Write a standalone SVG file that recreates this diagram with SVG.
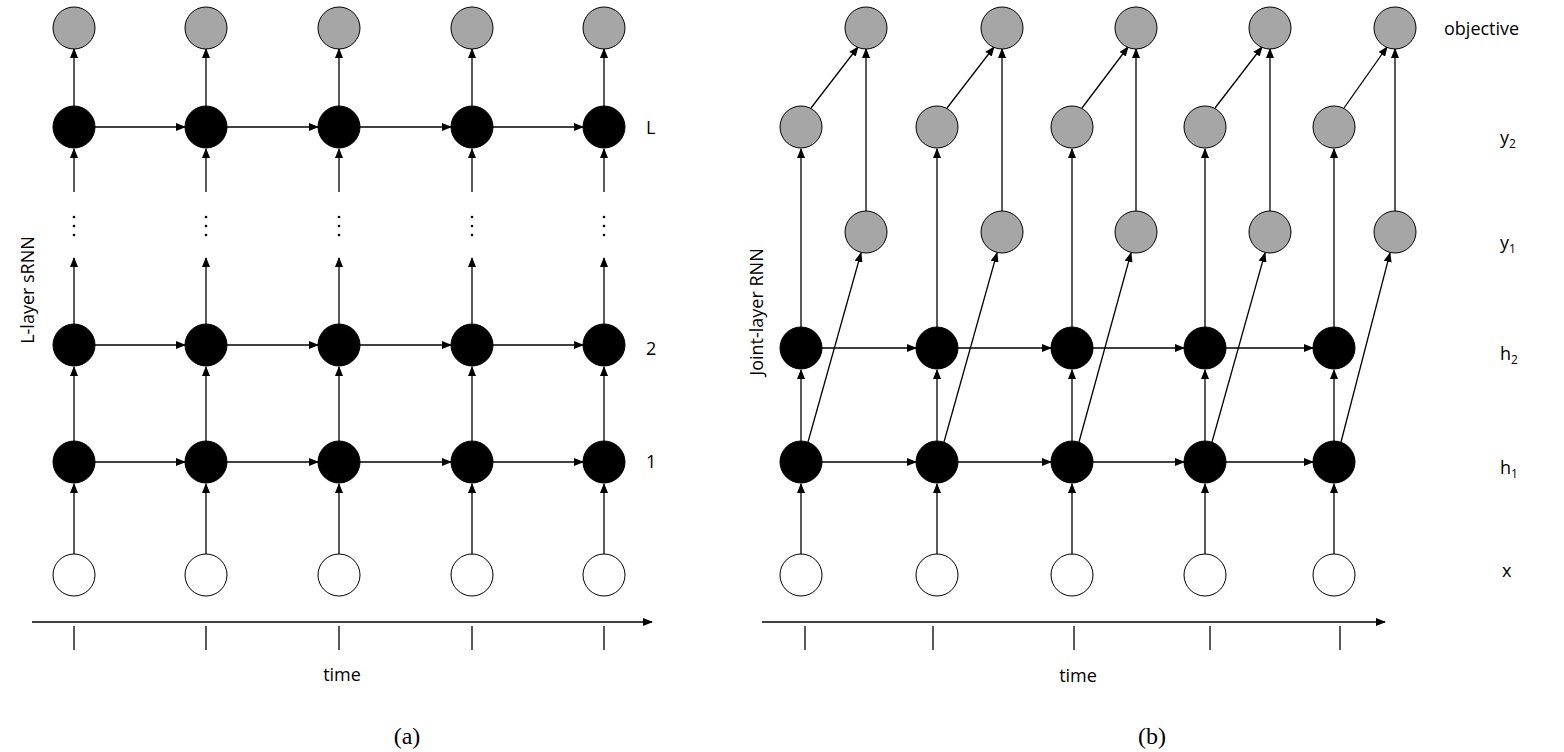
<svg xmlns="http://www.w3.org/2000/svg" width="1564" height="752" viewBox="0 0 1564 752">
<style>
.h{fill:#000;stroke:#000;stroke-width:1}
.g{fill:#a6a6a6;stroke:#000;stroke-width:1}
.w{fill:#fff;stroke:#000;stroke-width:1}
.e line,.e path{stroke:#000;stroke-width:1.3;fill:none}
.a{marker-end:url(#ar)}
text{font-family:"Open Sans","DejaVu Sans",sans-serif;font-size:18px;fill:#000}
.cap{font-family:"Liberation Serif",serif;font-size:24px}
</style>
<defs><marker id="ar" markerWidth="10" markerHeight="8" refX="9" refY="4" orient="auto" markerUnits="userSpaceOnUse"><path d="M0,0 L10,4 L0,8 z" fill="#000"/></marker></defs>
<g id="connectors" class="e">
<!-- panel a -->
<line x1="32" y1="622" x2="652" y2="622" class="a"/>
<path d="M74,626V650M206,626V650M339,626V650M472,626V650M604,626V650"/>
<g id="a-vert">
<line x1="74" y1="554" x2="74" y2="484" class="a"/><line x1="206" y1="554" x2="206" y2="484" class="a"/><line x1="339" y1="554" x2="339" y2="484" class="a"/><line x1="472" y1="554" x2="472" y2="484" class="a"/><line x1="604" y1="554" x2="604" y2="484" class="a"/>
<line x1="74" y1="441" x2="74" y2="367" class="a"/><line x1="206" y1="441" x2="206" y2="367" class="a"/><line x1="339" y1="441" x2="339" y2="367" class="a"/><line x1="472" y1="441" x2="472" y2="367" class="a"/><line x1="604" y1="441" x2="604" y2="367" class="a"/>
<line x1="74" y1="324" x2="74" y2="258" class="a"/><line x1="206" y1="324" x2="206" y2="258" class="a"/><line x1="339" y1="324" x2="339" y2="258" class="a"/><line x1="472" y1="324" x2="472" y2="258" class="a"/><line x1="604" y1="324" x2="604" y2="258" class="a"/>
<line x1="74" y1="192" x2="74" y2="149" class="a"/><line x1="206" y1="192" x2="206" y2="149" class="a"/><line x1="339" y1="192" x2="339" y2="149" class="a"/><line x1="472" y1="192" x2="472" y2="149" class="a"/><line x1="604" y1="192" x2="604" y2="149" class="a"/>
<line x1="74" y1="106" x2="74" y2="49" class="a"/><line x1="206" y1="106" x2="206" y2="49" class="a"/><line x1="339" y1="106" x2="339" y2="49" class="a"/><line x1="472" y1="106" x2="472" y2="49" class="a"/><line x1="604" y1="106" x2="604" y2="49" class="a"/>
</g>
<g id="a-horiz">
<line x1="95" y1="127" x2="185" y2="127" class="a"/><line x1="227" y1="127" x2="318" y2="127" class="a"/><line x1="360" y1="127" x2="451" y2="127" class="a"/><line x1="493" y1="127" x2="583" y2="127" class="a"/>
<line x1="95" y1="345" x2="185" y2="345" class="a"/><line x1="227" y1="345" x2="318" y2="345" class="a"/><line x1="360" y1="345" x2="451" y2="345" class="a"/><line x1="493" y1="345" x2="583" y2="345" class="a"/>
<line x1="95" y1="462" x2="185" y2="462" class="a"/><line x1="227" y1="462" x2="318" y2="462" class="a"/><line x1="360" y1="462" x2="451" y2="462" class="a"/><line x1="493" y1="462" x2="583" y2="462" class="a"/>
</g>
<!-- panel b -->
<line x1="762" y1="622" x2="1385" y2="622" class="a"/>
<path d="M805,626V650M933,626V650M1074,626V650M1210,626V650M1340,626V650"/>
<line x1="801" y1="554" x2="801" y2="484" class="a"/><line x1="937" y1="554" x2="937" y2="484" class="a"/><line x1="1072" y1="554" x2="1072" y2="484" class="a"/><line x1="1205" y1="554" x2="1205" y2="484" class="a"/><line x1="1334" y1="554" x2="1334" y2="484" class="a"/>
<line x1="801" y1="441" x2="801" y2="370" class="a"/><line x1="937" y1="441" x2="937" y2="370" class="a"/><line x1="1072" y1="441" x2="1072" y2="370" class="a"/><line x1="1205" y1="441" x2="1205" y2="370" class="a"/><line x1="1334" y1="441" x2="1334" y2="370" class="a"/>
<line x1="801" y1="327" x2="801" y2="149" class="a"/><line x1="937" y1="327" x2="937" y2="149" class="a"/><line x1="1072" y1="327" x2="1072" y2="149" class="a"/><line x1="1205" y1="327" x2="1205" y2="149" class="a"/><line x1="1334" y1="327" x2="1334" y2="149" class="a"/>
<line x1="866" y1="211" x2="866" y2="49" class="a"/><line x1="1002" y1="211" x2="1002" y2="49" class="a"/><line x1="1136" y1="211" x2="1136" y2="49" class="a"/><line x1="1270" y1="211" x2="1270" y2="49" class="a"/><line x1="1395" y1="211" x2="1395" y2="49" class="a"/>
<line x1="811" y1="108" x2="858" y2="47" class="a"/><line x1="947" y1="108" x2="994" y2="47" class="a"/><line x1="1082" y1="108" x2="1128" y2="47" class="a"/><line x1="1215" y1="108" x2="1262" y2="47" class="a"/><line x1="1344" y1="108" x2="1387" y2="47" class="a"/>
<line x1="808" y1="442" x2="861" y2="253" class="a"/><line x1="944" y1="442" x2="997" y2="253" class="a"/><line x1="1079" y1="442" x2="1131" y2="253" class="a"/><line x1="1212" y1="442" x2="1265" y2="253" class="a"/><line x1="1341" y1="442" x2="1390" y2="253" class="a"/>
<line x1="822" y1="348" x2="916" y2="348" class="a"/><line x1="958" y1="348" x2="1051" y2="348" class="a"/><line x1="1093" y1="348" x2="1184" y2="348" class="a"/><line x1="1226" y1="348" x2="1313" y2="348" class="a"/>
<line x1="822" y1="462" x2="916" y2="462" class="a"/><line x1="958" y1="462" x2="1051" y2="462" class="a"/><line x1="1093" y1="462" x2="1184" y2="462" class="a"/><line x1="1226" y1="462" x2="1313" y2="462" class="a"/>
</g>
<g id="a-nodes">
<g id="a-obj"><circle class="g" cx="74" cy="28" r="21"/><circle class="g" cx="206" cy="28" r="21"/><circle class="g" cx="339" cy="28" r="21"/><circle class="g" cx="472" cy="28" r="21"/><circle class="g" cx="604" cy="28" r="21"/></g>
<g id="a-L"><circle class="h" cx="74" cy="127" r="21"/><circle class="h" cx="206" cy="127" r="21"/><circle class="h" cx="339" cy="127" r="21"/><circle class="h" cx="472" cy="127" r="21"/><circle class="h" cx="604" cy="127" r="21"/></g>
<g id="a-2"><circle class="h" cx="74" cy="345" r="21"/><circle class="h" cx="206" cy="345" r="21"/><circle class="h" cx="339" cy="345" r="21"/><circle class="h" cx="472" cy="345" r="21"/><circle class="h" cx="604" cy="345" r="21"/></g>
<g id="a-1"><circle class="h" cx="74" cy="462" r="21"/><circle class="h" cx="206" cy="462" r="21"/><circle class="h" cx="339" cy="462" r="21"/><circle class="h" cx="472" cy="462" r="21"/><circle class="h" cx="604" cy="462" r="21"/></g>
<g id="a-x"><circle class="w" cx="74" cy="575" r="21"/><circle class="w" cx="206" cy="575" r="21"/><circle class="w" cx="339" cy="575" r="21"/><circle class="w" cx="472" cy="575" r="21"/><circle class="w" cx="604" cy="575" r="21"/></g>
<g id="a-dots" fill="#000"><circle cx="74" cy="217" r="1.3"/><circle cx="74" cy="226" r="1.3"/><circle cx="74" cy="235" r="1.3"/><circle cx="206" cy="217" r="1.3"/><circle cx="206" cy="226" r="1.3"/><circle cx="206" cy="235" r="1.3"/><circle cx="339" cy="217" r="1.3"/><circle cx="339" cy="226" r="1.3"/><circle cx="339" cy="235" r="1.3"/><circle cx="472" cy="217" r="1.3"/><circle cx="472" cy="226" r="1.3"/><circle cx="472" cy="235" r="1.3"/><circle cx="604" cy="217" r="1.3"/><circle cx="604" cy="226" r="1.3"/><circle cx="604" cy="235" r="1.3"/></g>
</g>
<g id="b-nodes">
<g id="b-obj"><circle class="g" cx="866" cy="28" r="21"/><circle class="g" cx="1002" cy="28" r="21"/><circle class="g" cx="1136" cy="28" r="21"/><circle class="g" cx="1270" cy="28" r="21"/><circle class="g" cx="1395" cy="28" r="21"/></g>
<g id="b-y2"><circle class="g" cx="801" cy="127" r="21"/><circle class="g" cx="937" cy="127" r="21"/><circle class="g" cx="1072" cy="127" r="21"/><circle class="g" cx="1205" cy="127" r="21"/><circle class="g" cx="1334" cy="127" r="21"/></g>
<g id="b-y1"><circle class="g" cx="866" cy="232" r="21"/><circle class="g" cx="1002" cy="232" r="21"/><circle class="g" cx="1136" cy="232" r="21"/><circle class="g" cx="1270" cy="232" r="21"/><circle class="g" cx="1395" cy="232" r="21"/></g>
<g id="b-h2"><circle class="h" cx="801" cy="348" r="21"/><circle class="h" cx="937" cy="348" r="21"/><circle class="h" cx="1072" cy="348" r="21"/><circle class="h" cx="1205" cy="348" r="21"/><circle class="h" cx="1334" cy="348" r="21"/></g>
<g id="b-h1"><circle class="h" cx="801" cy="462" r="21"/><circle class="h" cx="937" cy="462" r="21"/><circle class="h" cx="1072" cy="462" r="21"/><circle class="h" cx="1205" cy="462" r="21"/><circle class="h" cx="1334" cy="462" r="21"/></g>
<g id="b-x"><circle class="w" cx="801" cy="575" r="21"/><circle class="w" cx="937" cy="575" r="21"/><circle class="w" cx="1072" cy="575" r="21"/><circle class="w" cx="1205" cy="575" r="21"/><circle class="w" cx="1334" cy="575" r="21"/></g>
</g>
<g id="labels">
<text x="646" y="134">L</text><text x="646" y="355">2</text><text x="646" y="468">1</text>
<text x="34" y="290" transform="rotate(-90 34 290)" text-anchor="middle">L-layer sRNN</text>
<text x="342" y="681" text-anchor="middle">time</text>
<text x="407" y="744" text-anchor="middle" class="cap">(a)</text>
<text x="1444" y="35">objective</text>
<text x="1500" y="144">y<tspan font-size="12" dy="4">2</tspan></text>
<text x="1500" y="249">y<tspan font-size="12" dy="4">1</tspan></text>
<text x="1500" y="360">h<tspan font-size="12" dy="4">2</tspan></text>
<text x="1500" y="474">h<tspan font-size="12" dy="4">1</tspan></text>
<text x="1502" y="577">x</text>
<text x="763" y="312" transform="rotate(-90 763 312)" text-anchor="middle">Joint-layer RNN</text>
<text x="1078" y="682" text-anchor="middle">time</text>
<text x="1152" y="744" text-anchor="middle" class="cap">(b)</text>
</g>
</svg>
